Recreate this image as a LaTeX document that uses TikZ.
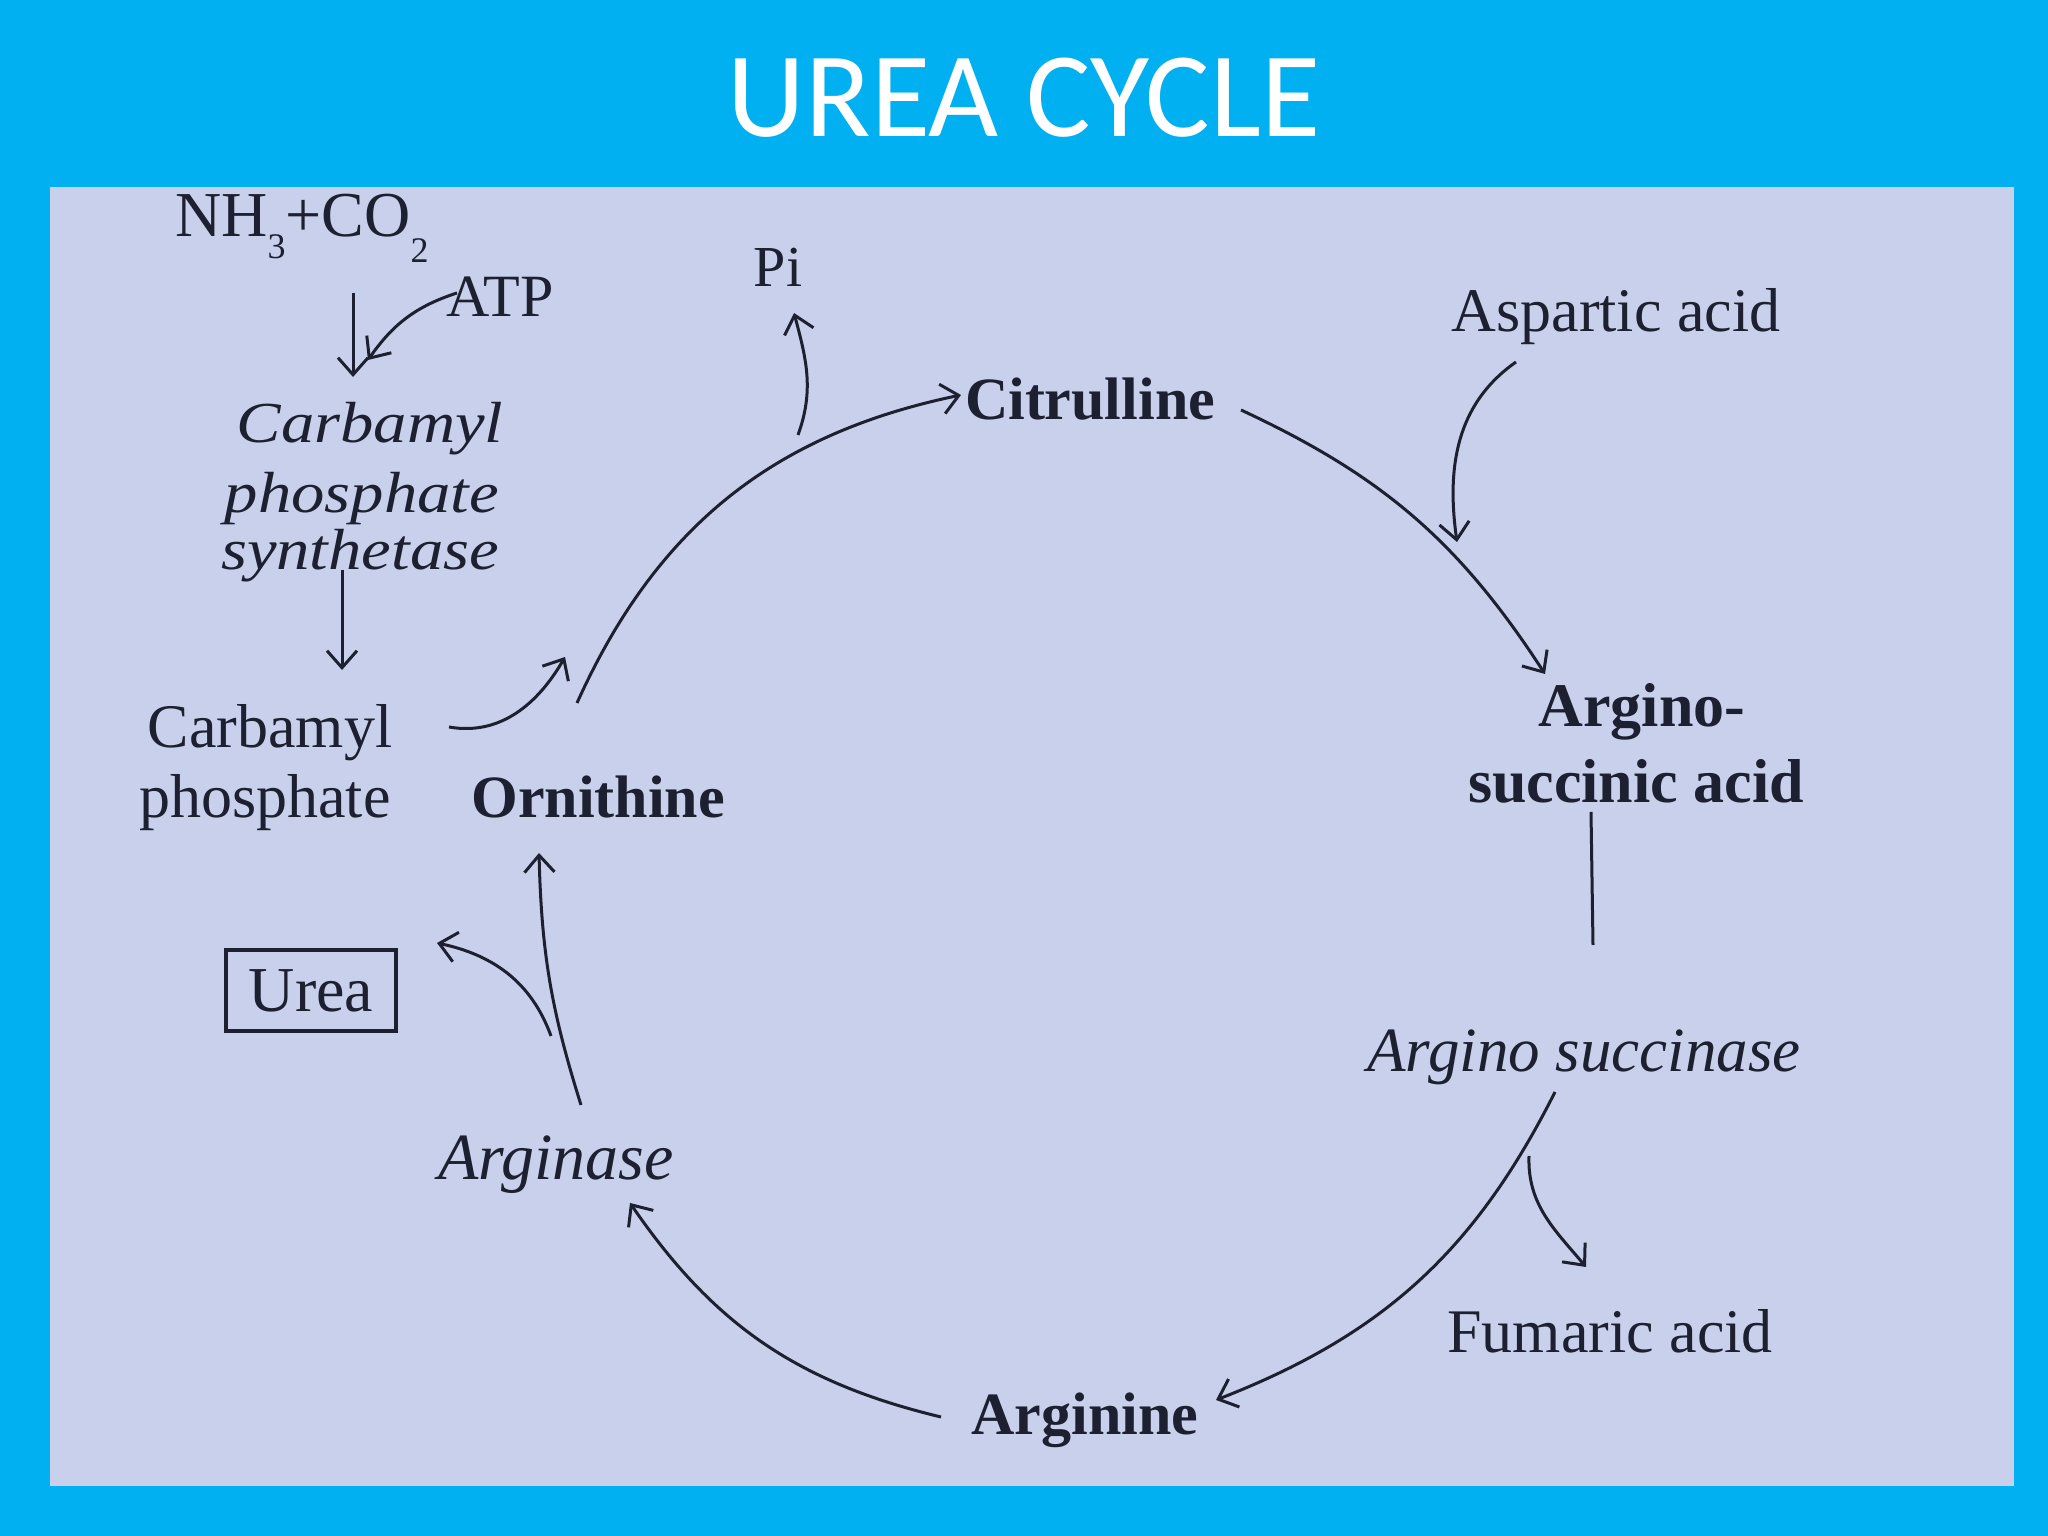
\documentclass[tikz,border=0pt]{standalone}
\usepackage{fontspec}
\setmainfont{Liberation Serif}
\newfontfamily\titlefont{Carlito}
\newfontfamily\itfont[FakeStretch=1.15]{Liberation Serif Italic}
\usetikzlibrary{arrows.meta}
\definecolor{slideblue}{HTML}{00B0F0}
\definecolor{paper}{HTML}{C9D0EB}
\definecolor{ink}{HTML}{1D2030}
\newcommand\fsz[1]{\fontsize{#1}{#1}\selectfont}
\begin{document}
\begin{tikzpicture}[x=1pt,y=1pt,
  lbl/.style={inner sep=0pt, anchor=base, text=ink},
  reg/.style={lbl, font=\fsz{62}},
  bld/.style={lbl, font=\fsz{60}\bfseries},
  itl/.style={lbl, font=\fsz{66}\itshape},
  arr/.style={draw=ink, line width=3pt, -{Straight Barb[length=17pt,width=30pt,line width=3pt]}},
  ln/.style={draw=ink, line width=3pt}]
\fill[slideblue] (0,0) rectangle (2048,1536);
\fill[paper] (50,50) rectangle (2014,1349);
\useasboundingbox (0,0) rectangle (2048,1536);
% title
\node[inner sep=0pt, anchor=base, text=white, font=\titlefont\fsz{121}] (title) at (1024,1399) {UREA CYCLE};
% labels
\node[reg, font=\fsz{64}] (nh3) at (302,1299) {NH\raisebox{-22pt}{\fsz{36}3}+CO\raisebox{-26pt}{\fsz{36}2}};
\node[reg, font=\fsz{60}] (atp) at (500,1219) {ATP};
\node[reg, font=\fsz{58}] (pi) at (778,1249) {Pi};
\node[lbl, font=\itfont\fsz{58}] (cps1) at (370,1093) {Carbamyl};
\node[lbl, font=\itfont\fsz{58}] (cps2) at (362,1023) {phosphate};
\node[lbl, font=\itfont\fsz{58}] (cps3) at (360,966) {synthetase};
\node[reg] (cp1) at (270,788) {Carbamyl};
\node[reg] (cp2) at (265,718) {phosphate};
\node[bld] (orn) at (598,718) {Ornithine};
\node[bld] (cit) at (1090,1116) {Citrulline};
\node[reg] (asp) at (1616,1204) {Aspartic acid};
\node[bld, font=\fsz{62}\bfseries] (as1) at (1642,809) {Argino-};
\node[bld, font=\fsz{62}\bfseries] (as2) at (1636,733) {succinic acid};
\node[itl, font=\fsz{63}\itshape] (asase) at (1584,464) {Argino succinase};
\node[reg] (fum) at (1610,183) {Fumaric acid};
\node[bld] (arg) at (1085,101) {Arginine};
\node[itl] (argase) at (556,356) {Arginase};
\node[draw=ink, line width=4pt, minimum width=170pt, minimum height=81pt, inner sep=0pt, text=ink, font=\fsz{64}] (urea) at (311,545) {Urea};
% connector ends
\coordinate (nh3s) at (353,1243); \coordinate (nh3e) at (353,1159);
\coordinate (atps) at (457,1243); \coordinate (atpe) at (368,1176);
\coordinate (cpss) at (342,966);  \coordinate (cpse) at (342,866);
\coordinate (cps) at (449,809);   \coordinate (cpe) at (565,879);
\coordinate (o1) at (577,833);    \coordinate (c1) at (961,1141);
\coordinate (c2) at (1241,1126);  \coordinate (a1) at (1545,862);
\coordinate (asps) at (1516,1174);\coordinate (aspe) at (1457,994);
\coordinate (s1) at (1591,724);   \coordinate (s2) at (1593,591);
\coordinate (e1) at (1555,444);   \coordinate (r1) at (1216,136);
\coordinate (fs) at (1529,380);   \coordinate (fe) at (1586,269);
\coordinate (r2) at (941,119);    \coordinate (g1) at (630,333);
\coordinate (g2) at (581,431);    \coordinate (o2) at (539,683);
\coordinate (us) at (551,500);    \coordinate (ue) at (437,593);
\coordinate (ps) at (798,1101);   \coordinate (pe) at (794,1223);
% connectors
\draw[arr] (nh3s) -- (nh3e);
\draw[arr] (atps) to[out=198,in=55] (atpe);
\draw[arr] (cpss) -- (cpse);
\draw[arr] (cps) to[out=-10,in=240] (cpe);
\draw[arr] (o1) to[bend left=27] (c1);
\draw[arr] (c2) to[bend left=16] (a1);
\draw[arr] (asps) to[out=215,in=98] (aspe);
\draw[ln] (s1) -- (s2);
\draw[arr] (e1) to[bend left=21] (r1);
\draw[arr] (fs) to[out=268,in=130] (fe);
\draw[arr] (r2) to[bend left=21] (g1);
\draw[arr] (g2) to[bend left=8] (o2);
\draw[arr] (us) to[out=110,in=-12] (ue);
\draw[arr] (ps) to[out=70,in=285] (pe);
\end{tikzpicture}
\end{document}
